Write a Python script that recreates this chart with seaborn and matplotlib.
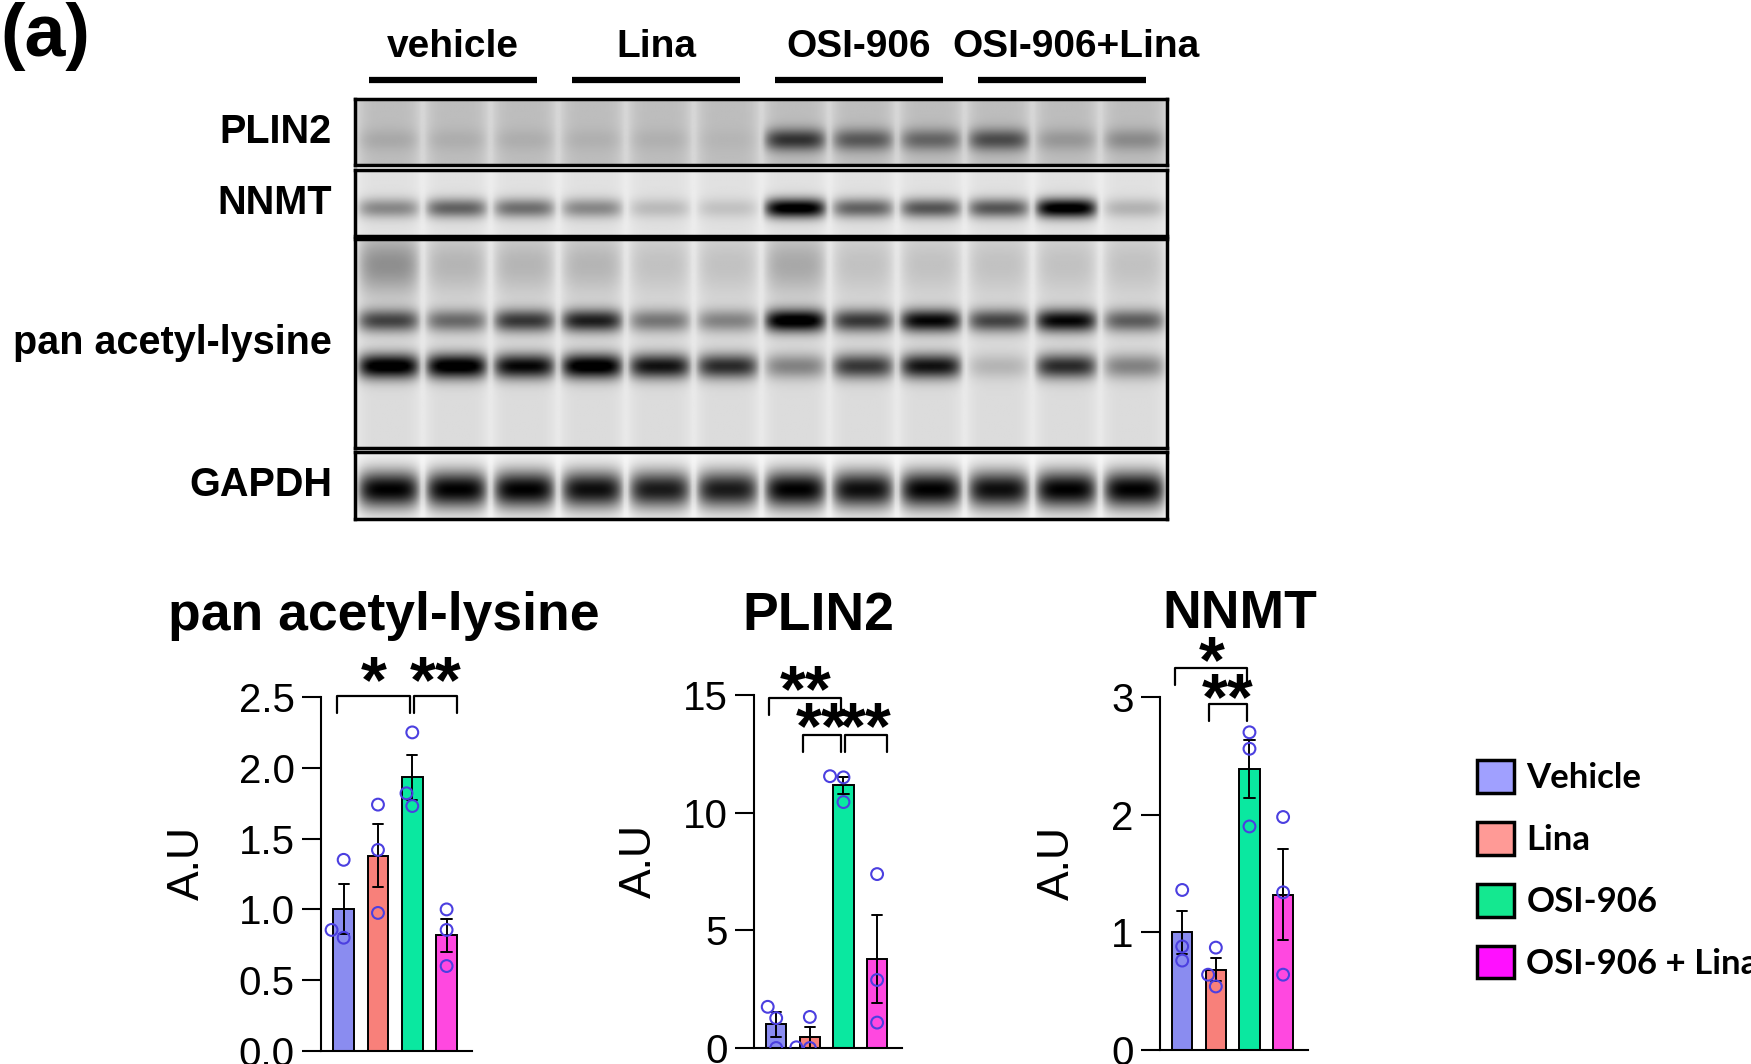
import numpy as np
import pandas as pd
import matplotlib
matplotlib.use("Agg")
import matplotlib.pyplot as plt
from matplotlib.patches import Patch
from matplotlib.font_manager import FontProperties
import seaborn as sns

W, H = 1751, 1064

# ---- data ----
groups = ["Vehicle", "Lina", "OSI-906", "OSI-906 + Lina"]
blot_groups = ["vehicle", "Lina", "OSI-906", "OSI-906+Lina"]
bar_colors = ["#8a8cf0", "#f8807a", "#0ae8a0", "#ff48e0"]
legend_colors = ["#a0a0ff", "#ff9a96", "#14e890", "#ff10ff"]
point_color = "#4b3fe0"

# replicates per group (A.U)
acetyl_values = [[1.35, 0.855, 0.80], [1.74, 1.42, 0.975], [2.25, 1.82, 1.73], [1.00, 0.855, 0.60]]
plin2_values = [[1.75, 1.27, 0.0], [1.32, 0.03, 0.0], [11.55, 11.5, 10.45], [7.39, 2.89, 1.08]]
nnmt_values = [[1.36, 0.88, 0.76], [0.87, 0.64, 0.54], [2.70, 2.56, 1.90], [1.98, 1.34, 0.64]]

# significance: (group i, group j, label, bracket height)
acetyl_sig = [(0, 2, "*", 2.51), (2, 3, "**", 2.51)]
plin2_sig = [(0, 2, "**", 14.87), (1, 2, "**", 13.3), (2, 3, "**", 13.3)]
nnmt_sig = [(0, 2, "*", 3.25), (1, 2, "**", 2.94)]

acetyl_ticks = [0.0, 0.5, 1.0, 1.5, 2.0, 2.5]
plin2_ticks = [0, 5, 10, 15]
nnmt_ticks = [0, 1, 2, 3]

# western blot band darkness per lane (0 = white, 1 = black), 12 lanes
plin2_band = [0.08, 0.06, 0.06, 0.05, 0.05, 0.03, 0.55, 0.40, 0.35, 0.45, 0.15, 0.20]
nnmt_band = [0.35, 0.50, 0.45, 0.35, 0.15, 0.12, 0.95, 0.50, 0.55, 0.55, 0.95, 0.18]
acetyl_top_smear = [0.30, 0.15, 0.15, 0.15, 0.10, 0.10, 0.20, 0.10, 0.10, 0.10, 0.10, 0.10]
acetyl_upper_band = [0.60, 0.45, 0.65, 0.75, 0.40, 0.35, 0.95, 0.65, 0.85, 0.60, 0.85, 0.50]
acetyl_lower_band = [0.95, 0.95, 0.85, 0.95, 0.80, 0.70, 0.35, 0.65, 0.80, 0.15, 0.70, 0.35]
gapdh_band = [0.95, 0.95, 0.95, 0.90, 0.85, 0.85, 0.95, 0.90, 0.95, 0.90, 0.95, 0.95]

sns.set_style("ticks")
plt.rcParams["font.family"] = ["Liberation Sans", "DejaVu Sans"]
plt.rcParams.update({"text.color": "black", "axes.labelcolor": "black",
                     "xtick.color": "black", "ytick.color": "black",
                     "axes.edgecolor": "black"})

fig = plt.figure(figsize=(W / 100, H / 100), dpi=100)


def px_axes(x0, y0, x1, y1):
    return fig.add_axes([x0 / W, 1 - y1 / H, (x1 - x0) / W, (y1 - y0) / H])


# overlay in pixel coordinates for labels and lines
over = fig.add_axes([0, 0, 1, 1])
over.set_xlim(0, W)
over.set_ylim(H, 0)
over.axis("off")

# ---- western blot ----
blot_x0, blot_x1 = 355, 1167
lane_w = (blot_x1 - blot_x0) / 12


def blot_image(bands, bg, n_rows=90, lane_px=24):
    y = np.linspace(0, 1, n_rows)[:, None]
    cols = np.arange(12 * lane_px)
    pos = (cols % lane_px + 0.5) / lane_px
    lane_shape = np.clip(1 - ((pos - 0.5) / 0.5) ** 4, 0, 1)
    lane_idx = cols // lane_px
    img = np.tile(bg * (0.55 + 0.45 * lane_shape), (n_rows, 1))
    for intens, center, thick in bands:
        prof = np.exp(-((y - center) / thick) ** 2)
        img = img + prof * (np.asarray(intens)[lane_idx] * lane_shape)[None, :]
    return np.clip(img, 0, 1)


blot_panels = [
    ("PLIN2", 99, 165, [(plin2_band, 0.62, 0.17)], 0.26),
    ("NNMT", 170, 236, [(nnmt_band, 0.58, 0.15)], 0.12),
    ("pan acetyl-lysine", 239, 448,
     [(acetyl_top_smear, 0.12, 0.14), (acetyl_upper_band, 0.39, 0.055),
      (acetyl_lower_band, 0.61, 0.06)], 0.14),
    ("GAPDH", 452, 519, [(gapdh_band, 0.56, 0.28)], 0.05),
]
for name, y0, y1, bands, bg in blot_panels:
    bax = px_axes(blot_x0, y0, blot_x1, y1)
    bax.imshow(blot_image(bands, bg), cmap="gray_r", vmin=0, vmax=1,
               aspect="auto", interpolation="bilinear")
    bax.set_xticks([])
    bax.set_yticks([])
    for sp in bax.spines.values():
        sp.set_linewidth(2.5)
        sp.set_color("black")
    over.text(332, (y0 + y1) / 2, name, ha="right", va="center",
              fontsize=28.5, fontweight="bold")

for g, label in enumerate(blot_groups):
    lx0 = blot_x0 + 3 * g * lane_w + 14
    lx1 = lx0 + 168
    over.plot([lx0, lx1], [80, 80], color="black", lw=4.5, solid_capstyle="butt")
    over.text((lx0 + lx1) / 2 + (14 if g == 3 else 0), 47, label, ha="center",
              va="center", fontsize=28, fontweight="bold")

over.text(0, 2, "(a)", ha="left", va="top", fontsize=53, fontweight="bold")

# ---- bar charts ----
# title, values, comparisons, ticks, tick format, axes box (px),
# y-label right edge (px), title x, title baseline, star lift above bracket (px)
charts = [
    ("pan acetyl-lysine", acetyl_values, acetyl_sig, acetyl_ticks, "{:.1f}",
     (321, 697, 472, 1051), 208, 384, 630, 25),
    ("PLIN2", plin2_values, plin2_sig, plin2_ticks, "{:d}",
     (754, 695, 902, 1048), 660, 818, 630, 19),
    ("NNMT", nnmt_values, nnmt_sig, nnmt_ticks, "{:d}",
     (1160, 697, 1308, 1050), 1078, 1240, 628, 17),
]

star_fs = 48
for title, values, sigs, ticks, fmt, box, label_x, tx, ty, lift in charts:
    df = pd.DataFrame({
        "group": [g for g, vals in zip(groups, values) for _ in vals],
        "value": [v for vals in values for v in vals],
    })
    ax = px_axes(*box)
    sns.barplot(data=df, x="group", y="value", hue="group", order=groups,
                hue_order=groups, palette=bar_colors, saturation=1, errorbar="se",
                capsize=0.3, width=0.6, edgecolor="black", linewidth=1.4,
                err_kws={"color": "black", "linewidth": 1.4}, legend=False, ax=ax)
    sns.swarmplot(data=df, x="group", y="value", order=groups, color=point_color,
                  facecolor="none", edgecolor=point_color, linewidth=1.5,
                  size=8.5, ax=ax)
    ymax = ticks[-1]
    ax.set_ylim(0, ymax)
    ax.set_xlim(-0.66, 3.74)
    ax.set_yticks(ticks)
    ax.set_yticklabels([fmt.format(t) for t in ticks])
    ax.set_xticks([])
    ax.set_xlabel("")
    ax.set_ylabel("A.U", fontsize=32)
    ax.yaxis.set_label_coords((label_x - box[0]) / (box[2] - box[0]), 0.53)
    sns.despine(ax=ax)
    for sp in ("left", "bottom"):
        ax.spines[sp].set_linewidth(1.5)
    ax.tick_params(axis="y", length=14, width=1.5, labelsize=29, pad=5)
    ax.patch.set_alpha(0)

    drop = 0.048 * ymax
    for i, j, lab, yb in sigs:
        x0 = i - 0.2 if i < 2 else i + 0.05
        x1 = j - 0.07 if j == 2 else j + 0.3
        ax.plot([x0, x0, x1, x1], [yb - drop, yb, yb, yb - drop], color="black",
                lw=1.6, clip_on=False)
        ax.annotate(lab, xy=((x0 + x1) / 2, yb), xytext=(0, -5 - (25 - lift) * 0.72),
                    textcoords="offset points", ha="center", va="baseline",
                    fontsize=star_fs, fontweight="bold", annotation_clip=False)

    over.text(tx, ty, title, ha="center", va="baseline", fontsize=38.5,
              fontweight="bold")

handles = [Patch(facecolor=c, edgecolor="black", linewidth=2.5) for c in legend_colors]
fig.legend(handles, groups, loc="upper left", bbox_to_anchor=(1477 / W, 1 - 760 / H),
           frameon=False, prop=FontProperties(family="Lato", weight="bold", size=25),
           handlelength=1.07, handleheight=1.07, handletextpad=0.35,
           labelspacing=0.8, borderpad=0, borderaxespad=0)

fig.savefig("out.png", dpi=100)
